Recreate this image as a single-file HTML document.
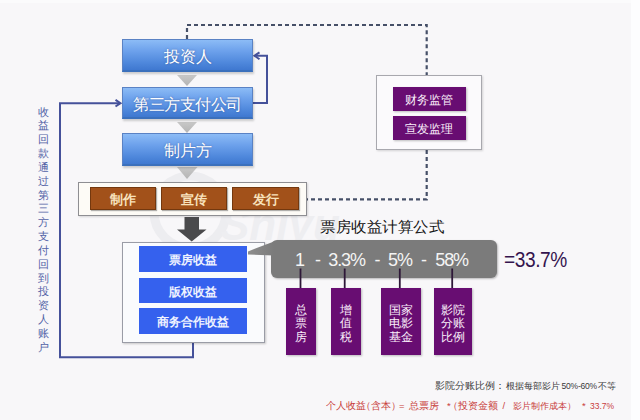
<!DOCTYPE html>
<html><head><meta charset="utf-8">
<style>
html,body{margin:0;padding:0;}
body{width:640px;height:420px;position:relative;overflow:hidden;background:#f8f7f9;font-family:"Liberation Sans",sans-serif;}
.a{position:absolute;}
.bb{position:absolute;left:122px;width:131px;height:33px;box-sizing:border-box;
 background:linear-gradient(#8cbcf6 0%,#6ea2ec 35%,#4f88dc 75%,#3f78d0 100%);
 border:1px solid #5a82c4;border-bottom:2px solid #3b70bc;
 box-shadow:1px 2px 2px rgba(0,0,0,0.18);
 color:#fff;font-size:15.6px;font-weight:500;text-align:center;line-height:34px;text-shadow:0 0 2px rgba(40,60,120,0.6);}
.br{position:absolute;top:187px;width:66px;height:23px;box-sizing:border-box;background:#a2511a;border:1px solid #74380e;box-shadow:1px 1px 1px rgba(0,0,0,0.3);
 color:#f8e2bc;font-size:13px;font-weight:bold;text-align:center;line-height:23px;}
.bl{position:absolute;left:138.5px;width:108.5px;height:26px;background:#3561ee;color:#eef2ff;font-size:12px;font-weight:bold;text-align:center;line-height:29px;}
.pp{position:absolute;background:#680d72;color:#fbf0fb;font-weight:500;text-align:center;box-shadow:1px 1px 2px rgba(0,0,0,0.25);}
.vt{position:absolute;top:288px;height:66.5px;font-size:11.5px;line-height:13.6px;padding-top:15.5px;box-sizing:border-box;}
.ct{position:absolute;top:251.2px;color:#f4f4f4;font-size:18px;line-height:18px;letter-spacing:-1.1px;white-space:nowrap;}
</style></head>
<body>
<div class="a" style="left:631px;top:0;width:9px;height:420px;background:#fdfdfe;"></div>
<div class="a" style="left:0;top:0;width:631px;height:3px;background:#fbfbfc;"></div>
<!-- watermark -->
<svg class="a" style="left:0;top:0" width="640" height="420">
 <circle cx="190" cy="212" r="36" fill="none" stroke="#ededf0" stroke-width="9"/>
 <text x="220" y="240" font-family="Liberation Sans" font-size="44" font-weight="bold" font-style="italic" fill="#eeeef1">Shiyu</text>
</svg>
<!-- lines -->
<svg class="a" style="left:0;top:0" width="640" height="420">
 <g fill="none" stroke="#465068" stroke-width="2.2" stroke-dasharray="4 3">
  <path d="M187 39 V25 H426.7 V75"/>
  <path d="M426.7 150 V199.3 H307"/>
 </g>
 <g fill="none" stroke="#45519a" stroke-width="2">
  <path d="M253 103.1 H267 V55.7 H255"/>
  <path d="M259.5 52.3 L254.5 55.7 L259.5 59.2"/>
  <path d="M193 342 V357.3 H60 V103.3 H120"/>
  <path d="M115.5 99.9 L120.5 103.2 L115.5 106.5"/>
 </g>
 <!-- grey triangles -->
 <defs>
  <linearGradient id="tg" x1="0" y1="0" x2="0" y2="1"><stop offset="0" stop-color="#c8c8c8"/><stop offset="1" stop-color="#b4b4b4"/></linearGradient>
 </defs>
 <path d="M177 75 H197 L187 86 Z" fill="url(#tg)"/>
 <path d="M177 122 H197 L187 133 Z" fill="url(#tg)"/>
 <path d="M177 167 H197.5 L187 179 Z" fill="url(#tg)"/>
</svg>

<!-- blue flow boxes -->
<div class="bb" style="top:39px;">投资人</div>
<div class="bb" style="top:87px;height:32px;line-height:33px;letter-spacing:-0.45px;">第三方支付公司</div>
<div class="bb" style="top:132.5px;">制片方</div>

<!-- production row -->
<div class="a" style="left:77.5px;top:182px;width:229.5px;height:33.5px;box-sizing:border-box;background:#fdfbf6;border:1px solid #8e8e92;box-shadow:1px 1px 2px rgba(0,0,0,0.15);"></div>
<div class="br" style="left:90px;">制作</div>
<div class="br" style="left:161px;">宣传</div>
<div class="br" style="left:232px;width:67px;">发行</div>

<!-- dark down arrow -->
<svg class="a" style="left:0;top:0" width="640" height="420">
 <path d="M184.5 217 H199 V229.5 H206.5 L191.7 241.5 L177 229.5 H184.5 Z" fill="#4a4a4c"/>
</svg>

<!-- revenue container -->
<div class="a" style="left:122px;top:241.8px;width:142.5px;height:101px;box-sizing:border-box;background:#fafbfd;border:1px solid #9a9ca6;box-shadow:1px 1px 2px rgba(0,0,0,0.2);"></div>
<div class="bl" style="top:246px;">票房收益</div>
<div class="bl" style="top:277.5px;height:25.5px;line-height:28.5px;">版权收益</div>
<div class="bl" style="top:308px;height:25.5px;line-height:28.5px;">商务合作收益</div>

<!-- regulator -->
<div class="a" style="left:375.5px;top:74.8px;width:106.5px;height:75px;box-sizing:border-box;background:#fbfafc;border:1px solid #a8a8ae;box-shadow:1px 1px 2px rgba(0,0,0,0.15);"></div>
<div class="pp" style="left:393px;top:86.5px;width:72.5px;height:24.5px;font-size:11.7px;line-height:25px;">财务监管</div>
<div class="pp" style="left:393px;top:115.5px;width:72.5px;height:24.5px;font-size:11.7px;line-height:26.5px;">宣发监理</div>

<!-- title -->
<div class="a" style="left:320px;top:218px;transform:scaleX(1.034);transform-origin:0 0;font-size:15px;font-weight:500;line-height:18px;color:#141414;white-space:nowrap;">票房收益计算公式</div>

<!-- callout -->
<div class="a" style="left:271px;top:240px;width:225.8px;height:38.3px;background:#7b7b7b;border-radius:6px;box-shadow:1px 1px 2px rgba(0,0,0,0.25);"></div>
<svg class="a" style="left:0;top:0" width="640" height="420">
 <defs><linearGradient id="pg" x1="0" y1="0" x2="1" y2="0"><stop offset="0" stop-color="#8e8e8e"/><stop offset="1" stop-color="#7b7b7b"/></linearGradient></defs>
 <path d="M274 241.5 L248 251.4 L248 254.4 L274 255.6 Z" fill="url(#pg)"/>
 <g stroke="#2e1838" stroke-width="1.8">
  <path d="M300.5 268.5 V288"/>
  <path d="M344.7 268.5 V288"/>
  <path d="M399.8 268.5 V288"/>
  <path d="M452.2 268.5 V288"/>
 </g>
</svg>
<div class="ct" style="left:295px;">1</div>
<div class="ct" style="left:315px;">-</div>
<div class="ct" style="left:328.3px;">3.3%</div>
<div class="ct" style="left:374.5px;">-</div>
<div class="ct" style="left:388px;">5%</div>
<div class="ct" style="left:421px;">-</div>
<div class="ct" style="left:435.3px;">58%</div>
<div class="a" style="left:504px;top:249px;font-size:22px;line-height:22px;color:#34144e;white-space:nowrap;letter-spacing:-0.5px;font-weight:500;transform:scaleX(0.87);transform-origin:0 0;">=33.7%</div>

<!-- purple vertical boxes -->
<div class="pp vt" style="left:286px;width:30px;">总<br>票<br>房</div>
<div class="pp vt" style="left:331px;width:29.5px;">增<br>值<br>税</div>
<div class="pp vt" style="left:380.7px;width:40px;">国家<br>电影<br>基金</div>
<div class="pp vt" style="left:434px;width:38px;">影院<br>分账<br>比例</div>

<!-- vertical text -->
<div class="a" style="left:37px;top:105.5px;width:13px;font-size:11px;line-height:13.85px;color:#5262a6;text-align:center;">收<br>益<br>回<br>款<br>通<br>过<br>第<br>三<br>方<br>支<br>付<br>回<br>到<br>投<br>资<br>人<br>账<br>户</div>

<!-- footnotes -->
<div class="a" style="left:0;top:380px;font-size:9.5px;line-height:12px;color:#3a3a3a;white-space:nowrap;">
<span class="a" style="left:435px;top:0;font-size:10px;">影院分账比例：</span>
<span class="a" style="left:505.5px;top:0;font-size:9px;">根据每部影片</span>
<span class="a" style="left:561.5px;top:0;font-size:8.5px;letter-spacing:-0.2px;">50%-60%</span>
<span class="a" style="left:598px;top:0;font-size:8.5px;">不等</span>
</div>
<div class="a" style="left:0;top:400px;font-size:9.5px;line-height:12px;color:#c8403c;white-space:nowrap;">
<span class="a" style="left:325.5px;top:0;">个人收益</span>
<span class="a" style="left:361px;top:0;">（含本）</span>
<span class="a" style="left:399px;top:0;">=</span>
<span class="a" style="left:408.5px;top:0;">总票房</span>
<span class="a" style="left:447px;top:0;">*</span>
<span class="a" style="left:447.5px;top:0;">（投资金额</span>
<span class="a" style="left:502.5px;top:0;">/</span>
<span class="a" style="left:512.5px;top:0;font-size:9.2px;">影片制作成本）</span>
<span class="a" style="left:582px;top:0;">*</span>
<span class="a" style="left:590px;top:0;font-size:8.5px;letter-spacing:0px;">33.7%</span>
</div>
</body></html>
